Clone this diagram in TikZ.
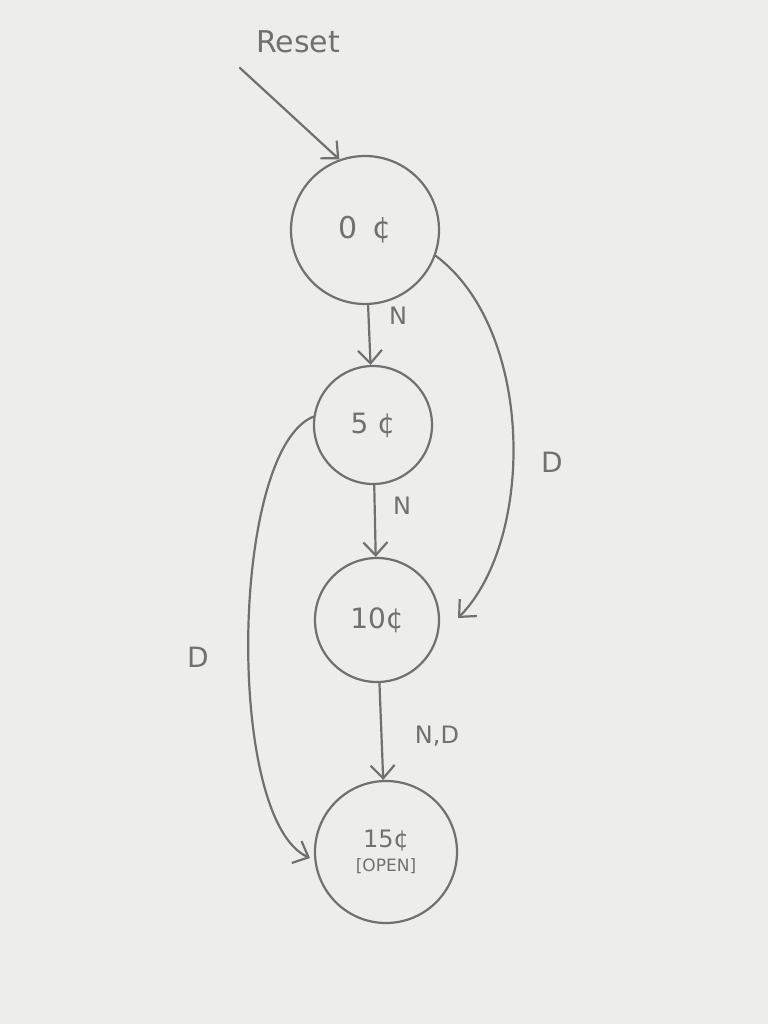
\documentclass[tikz,border=0pt]{standalone}
\usepackage{fontspec}
\setmainfont{DejaVu Sans}
\usetikzlibrary{arrows.meta}
\definecolor{paper}{HTML}{EDEDEB}
\definecolor{pencil}{HTML}{707070}
\begin{document}
\begin{tikzpicture}[x=1pt,y=-1pt,
  pen/.style={draw=pencil,line width=2.2pt,line cap=round,line join=round},
  state/.style={pen,circle,inner sep=0pt,text=pencil},
  edge/.style={pen,-{Straight Barb[length=13pt,width=24pt,line width=2.2pt]}},
  lbl/.style={text=pencil,font=\fontsize{24}{26}\selectfont}]
\fill[paper] (0,0) rectangle (768,1024);
\useasboundingbox (0,0) rectangle (768,1024);
\node[state,minimum size=148pt,font=\fontsize{30}{32}\selectfont] (s0) at (365,230) {0 \,¢};
\node[state,minimum size=118pt,font=\fontsize{28}{30}\selectfont] (s5) at (373,425) {5 ¢};
\node[state,minimum size=124pt,font=\fontsize{28}{30}\selectfont] (s10) at (377,620) {10¢};
\node[state,minimum size=142pt,align=center,font=\fontsize{24}{26}\selectfont] (s15) at (386,852) {15¢\\[-2pt]{\fontsize{17}{19}\selectfont [OPEN]}};
\node[lbl,font=\fontsize{30}{32}\selectfont] (reset) at (298,42) {Reset};
\coordinate (rs) at (240,68);
\draw[edge] (rs) -- (s0.110);
\draw[edge] (s0) -- (s5);
\draw[edge] (s5) -- (s10);
\draw[edge] (s10) -- (s15);
\draw[edge] (s0.-20) .. controls (535,330) and (535,540) .. (458,618);
\draw[edge] (s5.172) .. controls (230,450) and (225,820) .. (310,858);
\node[lbl] (n1) at (398,316) {N};
\node[lbl] (n2) at (402,506) {N};
\node[lbl] (n3) at (437,736) {N,D};
\node[lbl,font=\fontsize{28}{30}\selectfont] (d1) at (552,462) {D};
\node[lbl,font=\fontsize{28}{30}\selectfont] (d2) at (198,657) {D};
\end{tikzpicture}
\end{document}
